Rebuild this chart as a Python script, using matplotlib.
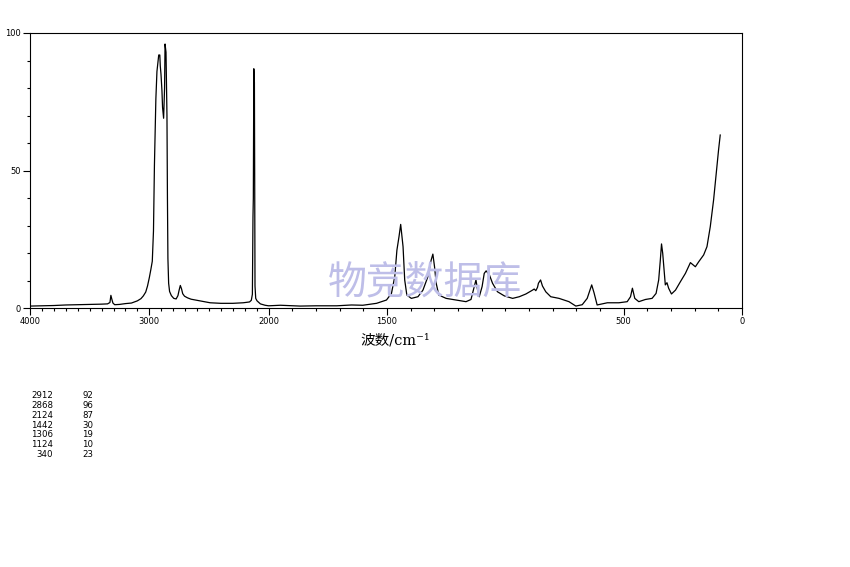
import numpy as np
import matplotlib
matplotlib.use("Agg")
import matplotlib.pyplot as plt
from matplotlib.ticker import FixedLocator, FixedFormatter, NullFormatter

# ---- data (wavenumber cm-1, intensity) ----
wavenumber = [
    4000, 3900, 3800, 3700, 3600, 3500, 3400, 3350, 3330, 3322, 3314, 3305, 3290,
    3250, 3200, 3150, 3100, 3070, 3050, 3030, 3015, 3000, 2987, 2975, 2965, 2957,
    2945, 2936, 2921, 2912, 2908, 2902, 2894, 2889, 2880, 2872, 2868, 2860, 2852,
    2848, 2844, 2838, 2830, 2815, 2795, 2775, 2760, 2750, 2740, 2730, 2720, 2705,
    2680, 2650, 2600, 2550, 2490, 2400, 2300, 2213, 2160, 2145, 2136, 2131, 2128,
    2124, 2119, 2114, 2108, 2097, 2069, 2030, 2000,
    1950, 1867, 1800, 1712, 1650, 1602, 1544, 1502, 1481, 1467, 1458, 1449, 1442,
    1432, 1425, 1416, 1397, 1369, 1348, 1327, 1313, 1306, 1299, 1292, 1281, 1250,
    1208, 1166, 1145, 1131, 1124, 1117, 1110, 1098, 1089, 1081, 1067, 1054, 1033,
    1004, 969, 941, 913, 885, 878, 871, 864, 860, 851, 843, 829, 808, 773, 731,
    702, 675, 654, 635, 625, 612, 569, 520, 485, 471, 463, 453, 436, 408, 380,
    363, 352, 345, 340, 335, 328, 324, 317, 310, 298, 281, 260, 239, 218, 211,
    197, 183, 162, 148, 134, 120, 109, 99, 92,
]
intensity = [
    0.7, 0.8, 0.9, 1.1, 1.2, 1.3, 1.4, 1.5, 2.0, 4.6, 3.2, 1.8, 1.2,
    1.3, 1.6, 1.8, 2.6, 3.4, 4.4, 5.8, 8.0, 11.0, 14, 17, 28, 52,
    76, 86, 92, 92, 88, 85, 79, 73, 69, 80, 96, 93, 70,
    40, 18, 9, 6, 4.5, 3.5, 3.3, 4.5, 6.5, 8.2, 7, 5.2, 4.3,
    3.7, 3.2, 2.8, 2.4, 1.9, 1.7, 1.7, 1.9, 2.2, 2.8, 5, 33, 40,
    87, 82, 8, 3.5, 2.6, 1.5, 1.0, 0.8,
    1.0, 0.7, 0.8, 0.8, 1.1, 1.0, 1.7, 2.9, 5.3, 11.4, 21, 26, 30.4,
    22.3, 10.2, 4.7, 3.5, 4.1, 6.5, 11.4, 17.5, 19.6, 15, 9, 4.7, 3.5,
    2.9, 2.3, 3.1, 7.8, 10.2, 6.5, 4.1, 7.8, 12.6, 13.5, 12, 9, 5.9,
    4.4, 3.5, 4.1, 5.1, 6.5, 6.9, 6.3, 7.5, 9, 10.2, 8, 5.9, 4.1, 3.5, 2.3,
    0.7, 1.2, 3.5, 8.4, 5.5, 1.1, 1.9, 1.9, 2.3, 4.1, 7.2, 3.5, 2.3, 3.1, 3.5,
    5.3, 10.2, 17.5, 23.3, 19.9, 12.6, 8.4, 9.2, 7.2, 5.1, 6.5, 9.6, 12.6, 16.5, 16,
    15, 16.8, 19.3, 22.3, 29.6, 39.3, 49, 57.5, 62.9,
]

peak_positions = ["2912", "2868", "2124", "1442", "1306", "1124", "340"]
peak_heights = ["92", "96", "87", "30", "19", "10", "23"]

xtick_values = [4000, 3000, 2000, 1500, 500, 0]
xtick_labels = ["4000", "3000", "2000", "1500", "500", "0"]
ytick_values = [0, 50, 100]
ytick_labels = ["0", "50", "100"]

# ---- figure ----
fig = plt.figure(figsize=(8.5, 5.67), dpi=100)
ax = fig.add_axes([30 / 850, 1 - 308 / 567, 712 / 850, 275 / 567])

K = 1.984  # expansion of the 2000-0 region


def fwd(x):
    x = np.asarray(x, dtype=float)
    return np.where(x <= 2000, K * x, x + 2000 * (K - 1))


def inv(y):
    y = np.asarray(y, dtype=float)
    return np.where(y <= 2000 * K, y / K, y - 2000 * (K - 1))


ax.set_xscale("function", functions=(fwd, inv))
ax.plot(wavenumber, intensity, color="black", lw=0.9, zorder=3)
ax.set_xlim(4000, 0)
ax.set_ylim(0, 100)

ax.xaxis.set_major_locator(FixedLocator(xtick_values))
ax.xaxis.set_major_formatter(FixedFormatter(xtick_labels))
ax.xaxis.set_minor_locator(FixedLocator(np.arange(0, 4001, 100)))
ax.xaxis.set_minor_formatter(NullFormatter())
ax.yaxis.set_major_locator(FixedLocator(ytick_values))
ax.yaxis.set_major_formatter(FixedFormatter(ytick_labels))
ax.yaxis.set_minor_locator(FixedLocator(np.arange(0, 101, 10)))
ax.yaxis.set_minor_formatter(NullFormatter())

ax.tick_params(which="major", direction="out", length=5, width=0.8,
               labelsize=6, pad=1.5, colors="black")
ax.tick_params(which="minor", direction="out", length=2.5, width=0.8)
for s in ax.spines.values():
    s.set_linewidth(0.8)

# axis title
fig.text(395 / 850, 1 - 341 / 567, "波数/cm⁻¹",
         family=["DejaVu Serif", "Noto Sans CJK SC"], fontsize=10.5,
         ha="center", va="center")

# watermark
fig.text(425 / 850, 1 - 283 / 567, "物竞数据库",
         family=["Noto Sans CJK SC", "DejaVu Sans"], fontsize=28,
         color="#bebee8", ha="center", va="center", zorder=1)

# peak table
for i, (p, h) in enumerate(zip(peak_positions, peak_heights)):
    yy = 1 - (396 + i * 9.7) / 567
    fig.text(53 / 850, yy, p, fontsize=6.2, ha="right", va="center",
             family="DejaVu Sans")
    fig.text(93 / 850, yy, h, fontsize=6.2, ha="right", va="center",
             family="DejaVu Sans")

fig.savefig("out.png", dpi=100)
